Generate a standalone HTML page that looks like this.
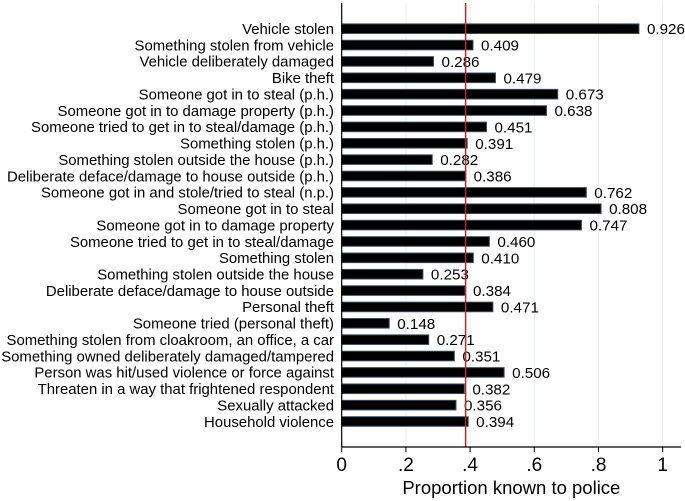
<!DOCTYPE html>
<html><head><meta charset="utf-8"><style>
body{margin:0;background:#fff}
svg{display:block;font-family:"Liberation Sans",Arial,sans-serif}
</style></head><body>
<svg id="chart" width="685" height="501"></svg>
<script>
const categories=["Vehicle stolen","Something stolen from vehicle","Vehicle deliberately damaged","Bike theft","Someone got in to steal (p.h.)","Someone got in to damage property (p.h.)","Someone tried to get in to steal/damage (p.h.)","Something stolen (p.h.)","Something stolen outside the house (p.h.)","Deliberate deface/damage to house outside (p.h.)","Someone got in and stole/tried to steal (n.p.)","Someone got in to steal","Someone got in to damage property","Someone tried to get in to steal/damage","Something stolen","Something stolen outside the house","Deliberate deface/damage to house outside","Personal theft","Someone tried (personal theft)","Something stolen from cloakroom, an office, a car","Something owned deliberately damaged/tampered","Person was hit/used violence or force against","Threaten in a way that frightened respondent","Sexually attacked","Household violence"];
const values=[0.926,0.409,0.286,0.479,0.673,0.638,0.451,0.391,0.282,0.386,0.762,0.808,0.747,0.460,0.410,0.253,0.384,0.471,0.148,0.271,0.351,0.506,0.382,0.356,0.394];
const ticks=[0,0.2,0.4,0.6,0.8,1];
const tickLabels=["0",".2",".4",".6",".8","1"];
const meanLine=0.386;
const NS="http://www.w3.org/2000/svg";
const svg=document.getElementById('chart');
const x0=341.7,x1=662.7,yTop=3,yAxis=447;
const firstY=28.7,lastY=421.5;
const X=v=>x0+v*(x1-x0);
const Y=i=>firstY+i*(lastY-firstY)/(categories.length-1);
function mk(t,a){const e=document.createElementNS(NS,t);for(const k in a)e.setAttribute(k,a[k]);svg.appendChild(e);return e;}
ticks.forEach((t,i)=>{
  if(t>0){const g=mk('line',{x1:X(t),x2:X(t),y1:yTop,y2:yAxis,stroke:'#e6eef4','stroke-width':1});
  
  }
  const tk=mk('line',{x1:X(t),x2:X(t),y1:yAxis,y2:yAxis+5,stroke:'#000'});
  
  
  const tl=mk('text',{x:X(t),y:yAxis+24,'text-anchor':'middle','font-size':19});
  tl.textContent=tickLabels[i];
  
  
});
categories.forEach((c,i)=>{
  const y=Y(i);
  const b=mk('rect',{x:X(0),y:y-4.8,width:X(values[i])-X(0),height:9.6,fill:'#000',stroke:'#3d4f63','stroke-width':1});
  
  
  const v=mk('text',{x:X(values[i])+8,y:y+5.5,'font-size':15.2});
  v.textContent=values[i].toFixed(3);
  
  
  const l=mk('text',{x:334,y:y+5.3,'text-anchor':'end','font-size':14.9});
  l.textContent=c;
  
  
});
const m=mk('line',{x1:X(meanLine),x2:X(meanLine),y1:yTop,y2:yAxis,stroke:'#c0272d','stroke-width':1.5});


const ya=mk('line',{x1:x0,x2:x0,y1:yTop,y2:yAxis,stroke:'#000','stroke-width':1.2});


const xa=mk('line',{x1:x0,x2:681,y1:yAxis,y2:yAxis,stroke:'#000','stroke-width':1.2});


const tt=mk('text',{x:(x0+681)/2,y:494,'text-anchor':'middle','font-size':18.5});
tt.textContent="Proportion known to police";


</script>
</body></html>
